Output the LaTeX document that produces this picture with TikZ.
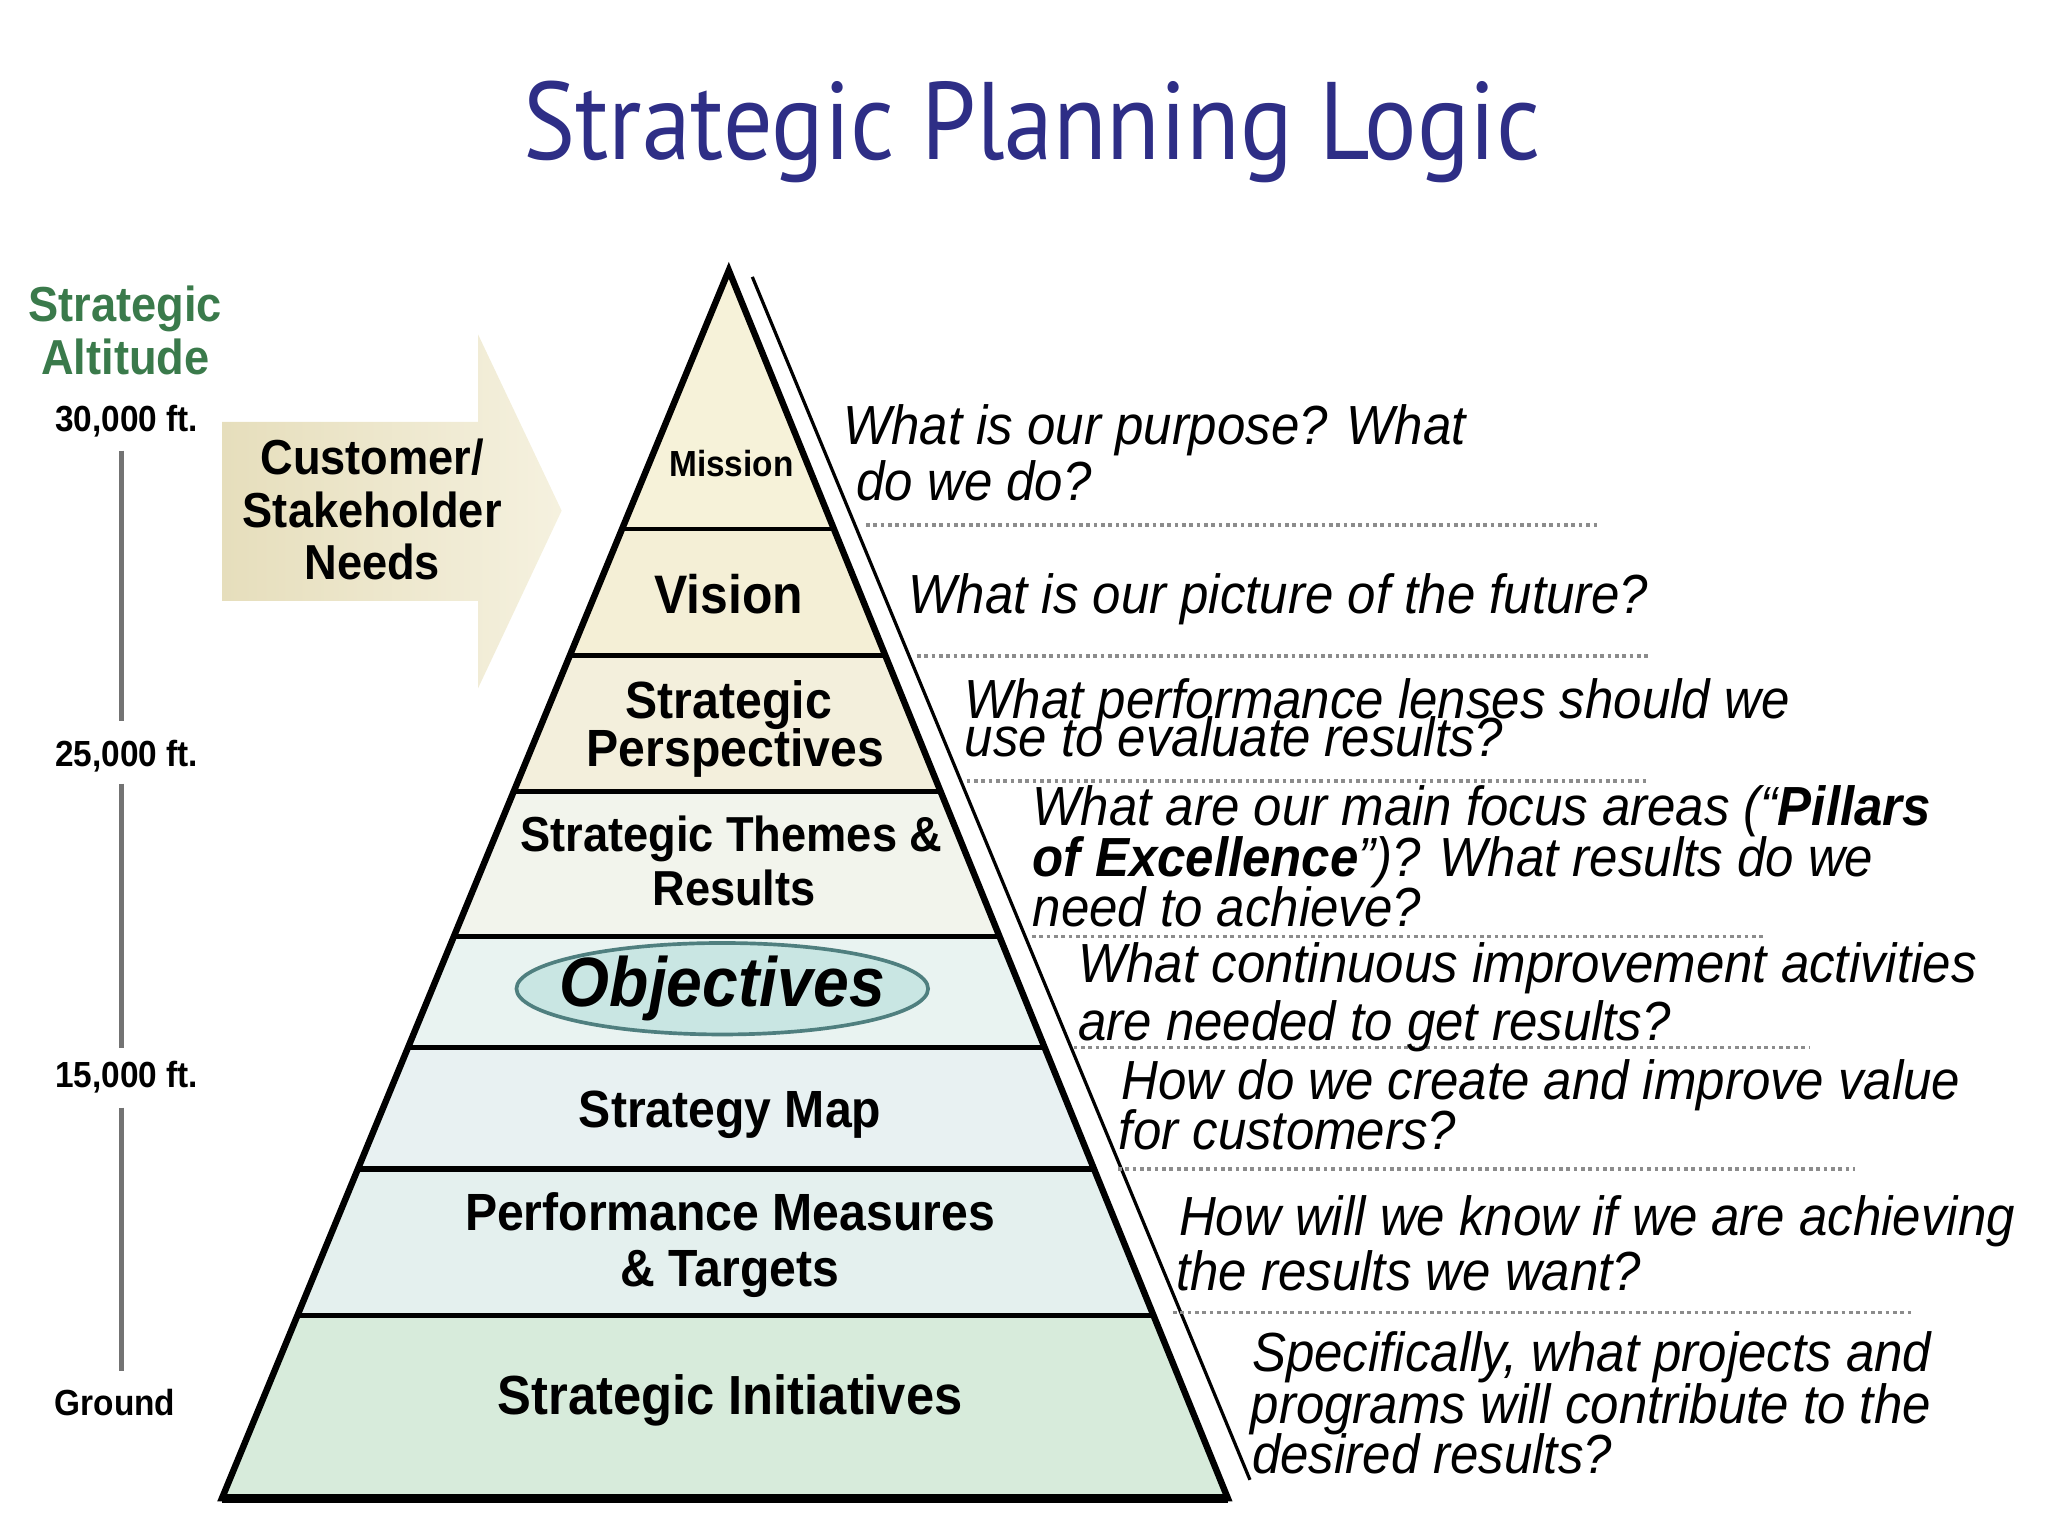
\documentclass[tikz,border=0pt]{standalone}
\usepackage{fontspec}
\setmainfont{Liberation Sans}
\newfontfamily\qfont[FakeStretch=0.925]{Liberation Sans}
\newfontfamily\lfont[FakeStretch=0.92]{Liberation Sans}
\newfontfamily\tfont[FakeStretch=0.89]{PT Sans}
\usetikzlibrary{calc,shapes.geometric}
\definecolor{titleblue}{HTML}{2E2E86}
\definecolor{altgreen}{HTML}{3A7A4B}
\definecolor{cMission}{HTML}{F6F2D9}
\definecolor{cVision}{HTML}{F4EFD6}
\definecolor{cPersp}{HTML}{F3EFDC}
\definecolor{cThemes}{HTML}{F2F4EC}
\definecolor{cObj}{HTML}{E9F3F1}
\definecolor{cMap}{HTML}{E8F1F2}
\definecolor{cPM}{HTML}{E4F0EE}
\definecolor{cInit}{HTML}{D7EBDB}
\definecolor{ellfill}{HTML}{C9E6E3}
\definecolor{elldraw}{HTML}{4F7F7F}
\definecolor{arrowL}{HTML}{E6DEBC}
\definecolor{arrowR}{HTML}{F5F1DF}
\tikzset{
  qtext/.style={anchor=base west, inner sep=0pt, font=\qfont\itshape\fontsize{12}{14}\selectfont},
  plabel/.style={anchor=base, inner sep=0pt, font=\lfont\bfseries\fontsize{11.4}{13}\selectfont},
  alt/.style={anchor=base, inner sep=0pt, font=\lfont\bfseries\fontsize{7.9}{9}\selectfont},
  altline/.style={draw=black!55, line width=0.9pt},
  sepline/.style={line width=1.1pt},
  dotsep/.style={draw=black!45, line width=0.8pt, dash pattern=on 0.8pt off 0.8pt},
}
\begin{document}
\begin{tikzpicture}[x=0.01cm,y=-0.01cm]
\useasboundingbox (0,0) rectangle (1568,1176);
% title
\node[anchor=base, inner sep=0pt, font=\tfont\fontsize{24}{28}\selectfont, text=titleblue] (title) at (790,122) {Strategic Planning Logic};

% altitude scale
\node[anchor=base, inner sep=0pt, font=\lfont\bfseries\fontsize{10.7}{12}\selectfont, text=altgreen] (sa1) at (96,246) {Strategic};
\node[anchor=base, inner sep=0pt, font=\lfont\bfseries\fontsize{10.7}{12}\selectfont, text=altgreen] (sa2) at (96,287) {Altitude};
\node[alt] (a30) at (97,330) {30,000 ft.};
\node[alt] (a25) at (97,587) {25,000 ft.};
\node[alt] (a15) at (97,833) {15,000 ft.};
\node[alt] (ag) at (88,1084) {Ground};
\coordinate (l1a) at (93,345); \coordinate (l1b) at (93,552);
\coordinate (l2a) at (93,600); \coordinate (l2b) at (93,802);
\coordinate (l3a) at (93,848); \coordinate (l3b) at (93,1050);
\draw[altline] (l1a) -- (l1b);
\draw[altline] (l2a) -- (l2b);
\draw[altline] (l3a) -- (l3b);

% block arrow
\shade[left color=arrowL, right color=arrowR]
  (170,323) -- (366,323) -- (366,256) -- (430,391) -- (366,527) -- (366,460) -- (170,460) -- cycle;
\node[anchor=base, inner sep=0pt, font=\lfont\bfseries\fontsize{10.7}{12}\selectfont] (n1) at (285,363) {Customer/};
\node[anchor=base, inner sep=0pt, font=\lfont\bfseries\fontsize{10.7}{12}\selectfont] (n2) at (285,404) {Stakeholder};
\node[anchor=base, inner sep=0pt, font=\lfont\bfseries\fontsize{10.7}{12}\selectfont] (n3) at (285,444) {Needs};

% pyramid
\coordinate (A) at (558,207);
\coordinate (BL) at (170,1147);
\coordinate (BR) at (940,1147);
\begin{scope}
\clip (A) -- (BR) -- (BL) -- cycle;
\fill[cMission] (0,200) rectangle (1568,405);
\fill[cVision] (0,405) rectangle (1568,502);
\fill[cPersp] (0,502) rectangle (1568,606);
\fill[cThemes] (0,606) rectangle (1568,717);
\fill[cObj] (0,717) rectangle (1568,802);
\fill[cMap] (0,802) rectangle (1568,895);
\fill[cPM] (0,895) rectangle (1568,1007);
\fill[cInit] (0,1007) rectangle (1568,1160);
\draw[line width=0.9pt] (0,405) -- (1568,405);
\foreach \yy in {502,606,717,802,895,1007}
  \draw[sepline] (0,\yy) -- (1568,\yy);
\end{scope}
\draw[line width=1.4pt, line join=miter] (A) -- (BR) -- (BL) -- cycle;
\draw[line width=2pt] (BL) -- (BR);

% pyramid labels
\node[anchor=base, inner sep=0pt, font=\lfont\bfseries\fontsize{7.9}{9}\selectfont] (mission) at (560,365) {Mission};
\node[plabel, font=\lfont\bfseries\fontsize{11.8}{13}\selectfont] (vision) at (558,470) {Vision};
\node[plabel] (sp1) at (558,550) {Strategic};
\node[plabel] (sp2) at (563,587) {Perspectives};
\node[plabel, font=\lfont\bfseries\fontsize{10.7}{12}\selectfont] (th1) at (560,652) {Strategic Themes \&};
\node[plabel, font=\lfont\bfseries\fontsize{10.7}{12}\selectfont] (th2) at (562,693) {Results};
\node[ellipse, draw=elldraw, line width=0.8pt, fill=ellfill, minimum width=3.15cm, minimum height=0.7cm, inner sep=0pt] (objell) at (553,757) {};
\node[inner sep=0pt, font=\lfont\bfseries\itshape\fontsize{15.2}{17}\selectfont] (obj) at (objell.center) {Objectives};
\node[plabel] (smap) at (559,863) {Strategy Map};
\node[plabel] (pm1) at (559,942) {Performance Measures};
\node[plabel] (pm2) at (559,985) {\& Targets};
\node[plabel, font=\lfont\bfseries\fontsize{12}{14}\selectfont] (si) at (559,1083) {Strategic Initiatives};

% second slanted line
\coordinate (S1) at (576,212);
\coordinate (S2) at (957,1133);
\draw[line width=0.7pt] (S1) -- (S2);

% dotted separators
\foreach \yy/\xa/\xb in {402/663/1225, 502/702/1262, 598/740/1262, 717/790/1350, 802/822/1385, 895/856/1420, 1005/898/1465}
  \draw[dotsep] (\xa,\yy) -- (\xb,\yy);

% questions
\node[qtext] (q1a) at (645,340) {What is our purpose? What};
\node[qtext] (q1b) at (655,383) {do we do?};
\node[qtext] (q2) at (695,470) {What is our picture of the future?};
\node[qtext] (q3a) at (738,550) {What performance lenses should we};
\node[qtext] (q3b) at (738,579) {use to evaluate results?};
\node[qtext] (q4a) at (790,632) {What are our main focus areas (“\textbf{Pillars}};
\node[qtext] (q4b) at (790,671) {\textbf{of Excellence}”)? What results do we};
\node[qtext] (q4c) at (790,709) {need to achieve?};
\node[qtext] (q5a) at (825,752) {What continuous improvement activities};
\node[qtext] (q5b) at (825,797) {are needed to get results?};
\node[qtext] (q6a) at (858,842) {How do we create and improve value};
\node[qtext] (q6b) at (856,880) {for customers?};
\node[qtext] (q7a) at (902,946) {How will we know if we are achieving};
\node[qtext] (q7b) at (900,988) {the results we want?};
\node[qtext] (q8a) at (958,1050) {Specifically, what projects and};
\node[qtext] (q8b) at (957,1090) {programs will contribute to the};
\node[qtext] (q8c) at (958,1128) {desired results?};
\end{tikzpicture}
\end{document}
